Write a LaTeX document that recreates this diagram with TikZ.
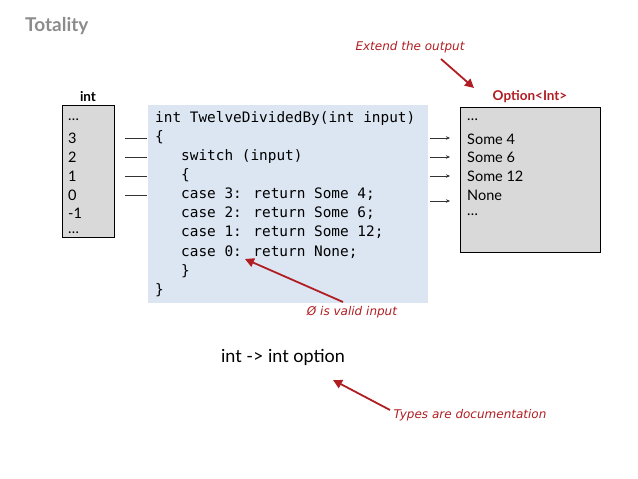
\documentclass[tikz,border=0pt]{standalone}
\usepackage{fontspec}
\setmainfont{Lato}
\newfontfamily\codefont{DejaVu Sans Mono}
\newfontfamily\handfont{DejaVu Sans}
\usetikzlibrary{arrows.meta}
\definecolor{annot}{HTML}{B01E23}
\definecolor{codebg}{HTML}{DCE6F2}
\definecolor{boxbg}{HTML}{D9D9D9}
\tikzset{
  ann/.style={text=annot,font=\handfont\itshape\fontsize{12}{14}\selectfont},
  annarrow/.style={draw=annot,line width=1.8pt,-{Triangle[length=9pt,width=9pt]}},
  item/.style={anchor=west,inner sep=0pt,font=\fontsize{14.5}{16}\selectfont},
  codeline/.style={anchor=west,inner sep=0pt,font=\codefont\fontsize{14.4}{16}\selectfont},
  setbox/.style={draw=black,fill=boxbg,line width=0.8pt},
  link/.style={draw=black!80,line width=0.6pt},
}
\begin{document}
\begin{tikzpicture}[x=1pt,y=-1pt]
\useasboundingbox (0,0) rectangle (638,479);
\node[anchor=west,inner sep=0pt,text=black!45,font=\bfseries\fontsize{19}{22}\selectfont] (title) at (25,26) {Totality};
% int box
\node[setbox,minimum width=52pt,minimum height=132pt,inner sep=0pt] (intbox) at (88,171) {};
\node[font=\bfseries\fontsize{13.5}{15}\selectfont,inner sep=0pt] (intlbl) at (88,97) {int};
\foreach \t [count=\i] in {\dots,3,2,1,0,-1,\dots}
  \node[item] (in\i) at (68,{120+(\i-1)*18.7}) {\t};
% code box
\node[fill=codebg,minimum width=280pt,minimum height=198pt,inner sep=0pt] (code) at (288,204) {};
\foreach \t [count=\i] in {
 {int TwelveDividedBy(int input)},
 {\{},
 {\ \ \ switch (input)},
 {\ \ \ \{},
 {\ \ \ case 3: return Some 4;},
 {\ \ \ case 2: return Some 6;},
 {\ \ \ case 1: return Some 12;},
 {\ \ \ case 0: return None;},
 {\ \ \ \}},
 {\}}}
  \node[codeline] (c\i) at (155,{118+(\i-1)*19.1}) {\t};
% option box
\node[setbox,minimum width=140pt,minimum height=145pt,inner sep=0pt] (optbox) at (530,180) {};
\node[text=annot,font=\bfseries\fontsize{13.5}{15}\selectfont,inner sep=0pt] (optlbl) at (530,97) {Option<Int>};
\foreach \t [count=\i] in {\dots,Some 4,Some 6,Some 12,None,\dots}
  \node[item] (o\i) at (467,{120+(\i-1)*18.9}) {\t};
% input lines
\foreach \y [count=\i] in {138,157,176,195}{
  \coordinate (ia\i) at (125,\y); \coordinate (ib\i) at (147,\y);
  \draw[link] (ia\i) -- (ib\i);}
\foreach \y [count=\i] in {138,157,176,201}{
  \coordinate (oa\i) at (430,\y); \coordinate (ob\i) at (450,\y);
  \draw[link,-{Stealth[length=4pt,width=3.5pt]}] (oa\i) -- (ob\i);}
% annotations
\node[ann] (ext) at (410,47) {Extend the output};
\coordinate (extA) at (441,59); \coordinate (extB) at (474,88);
\draw[annarrow] (extA) -- (extB);
\node[ann] (valid) at (352,312) {\O{} is valid input};
\coordinate (vA) at (343,302); \coordinate (vB) at (245,259);
\draw[annarrow] (vA) -- (vB);
\node[font=\fontsize{18}{21}\selectfont,inner sep=0pt] (sig) at (283,357) {int -> int option};
\node[ann] (types) at (470,415) {Types are documentation};
\coordinate (tA) at (390,410); \coordinate (tB) at (333,380);
\draw[annarrow] (tA) -- (tB);
\end{tikzpicture}
\end{document}
